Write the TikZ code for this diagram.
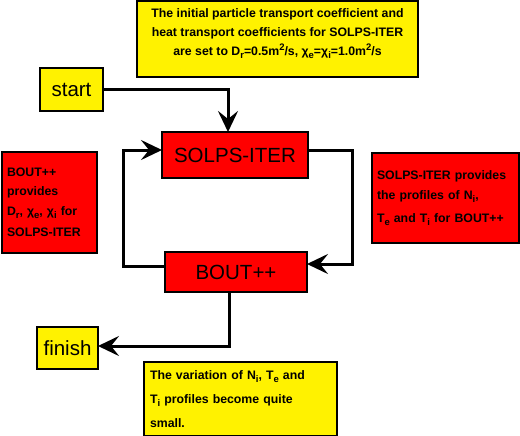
\documentclass[tikz,border=0pt]{standalone}
\usepackage{fontspec}
\setmainfont{Liberation Sans}
\usetikzlibrary{arrows.meta}
\newcommand\sbs[1]{\raisebox{-0.5ex}{\fontsize{9.5}{10}\selectfont #1}}
\newcommand\sps[1]{\raisebox{0.75ex}{\fontsize{9.5}{10}\selectfont #1}}
\begin{document}
\begin{tikzpicture}[x=1pt,y=-1pt,
  box/.style={draw=black,line width=1.8pt,rectangle,inner sep=0pt,outer sep=0pt},
  ybox/.style={box,fill=yellow},
  rbox/.style={box,fill=red},
  big/.style={font=\fontsize{20.5}{24}\selectfont},
  small/.style={font=\fontsize{12.3}{19}\selectfont\bfseries},
  conn/.style={line width=3pt,-{Stealth[length=21pt,width=20pt,inset=8pt]}}]
\useasboundingbox (0,0) rectangle (520,436);
\node[ybox,big,minimum width=63pt,minimum height=43pt] (start) at (71.5,89.5) {start};
\node[rbox,big,minimum width=146pt,minimum height=46pt] (solps) at (235,155) {SOLPS-ITER};
\node[rbox,big,minimum width=142pt,minimum height=40pt] (bout) at (236,272) {BOUT++};
\node[ybox,big,minimum width=61pt,minimum height=42pt] (finish) at (67.5,348) {finish};
\node[ybox,small,minimum width=281pt,minimum height=76pt,align=center] (init) at (277.5,39) {The initial particle transport coefficient and\\heat transport coefficients for SOLPS-ITER\\are set to D\sbs{r}=0.5m\sps{2}/s, χ\sbs{e}=χ\sbs{i}=1.0m\sps{2}/s\\[-5pt]};
\node[ybox,small,minimum width=193pt,minimum height=74pt,text width=181pt,align=left,font=\fontsize{12.3}{24}\selectfont\bfseries] (var) at (240.5,399) {The variation of N\sbs{i}, T\sbs{e} and\\T\sbs{i} profiles become quite\\small.};
\node[rbox,small,minimum width=95pt,minimum height=101pt,text width=85pt,align=left,font=\fontsize{12.3}{19.5}\selectfont\bfseries] (bprov) at (49.5,202.5) {BOUT++\\provides\\D\sbs{r}, χ\sbs{e}, χ\sbs{i} for\\[2pt]SOLPS-ITER};
\node[rbox,small,minimum width=147pt,minimum height=90pt,text width=137pt,align=left,font=\fontsize{12.3}{20}\selectfont\bfseries] (sprov) at (445.5,198) {SOLPS-ITER provides\\the profiles of N\sbs{i},\\[3pt]T\sbs{e} and T\sbs{i} for BOUT++};
\draw[conn] (start.east) -| ([xshift=-7pt]solps.north);
\draw[conn] ([yshift=6pt]bout.west) -- ++(-42,0) |- ([yshift=5pt]solps.west);
\draw[conn] ([yshift=5pt]solps.east) -- ++(44,0) |- ([yshift=8pt]bout.east);
\draw[conn] ([xshift=-7pt]bout.south) |- ([yshift=2pt]finish.east);
\end{tikzpicture}
\end{document}
